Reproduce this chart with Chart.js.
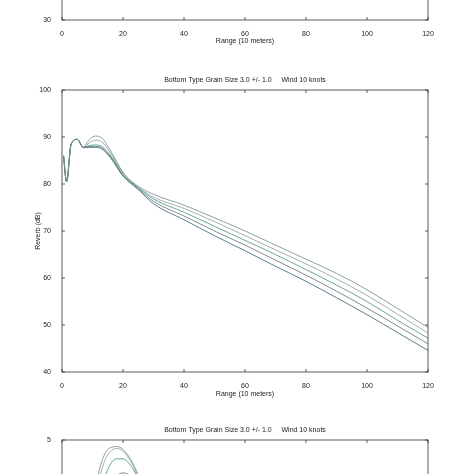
<!DOCTYPE html>
<html><head><meta charset="utf-8">
<script src="https://cdn.jsdelivr.net/npm/chart.js@4"></script>
<style>
body{margin:0;width:474px;height:474px;overflow:hidden;background:#fff;position:relative}
.c{position:absolute;left:0;width:474px}
</style></head><body>
<div class="c" style="top:-300px;height:345px"><canvas id="topChart"></canvas></div>
<div class="c" style="top:68px;height:330px"><canvas id="midChart"></canvas></div>
<div class="c" style="top:418px;height:330px"><canvas id="botChart"></canvas></div>
<script>
// range samples (10 m units)
const ranges = [0.5,1.5,3,5,7,9,11,13,16,20,25,30,40,50,60,70,80,90,100,110,120];
const reverb1 = [86,80.5,88.5,89.5,87.8,89.5,90.2,89.8,87,82.5,79.5,77.8,75.5,72.8,70,67,64,61,57.5,53.5,49.5];
const reverb2 = [86,80.5,88.5,89.5,87.8,88.8,89.3,89,86.5,82.3,79.3,77.2,74.8,72,69,66,63,59.8,56.3,52.3,48.3];
const reverb3 = [86,80.5,88.5,89.5,87.8,88.2,88.3,88,86,82,79.2,76.8,74,71,68,65,61.8,58.5,55,51,47.2];
const reverb4 = [86,80.5,88.5,89.5,87.8,88,88,87.7,85.7,81.8,79,76.3,73.2,70,67,63.8,60.6,57.2,53.6,49.8,46];
const reverb5 = [86,80.5,88.5,89.5,87.7,87.8,87.8,87.5,85.5,81.7,78.8,75.8,72.4,69,65.8,62.5,59.3,55.8,52.2,48.4,44.6];
// lower panel (only its top edge is visible)
const lowRanges = [8,10,12,14,16,18,20,22,24,26,28,30];
const low1 = [-8,-2,1.5,3.5,4.2,4.3,4,3.2,2,0.5,-1.5,-4];
const low2 = [-9,-3,0.5,2.8,3.8,4.1,3.8,3,1.8,0.3,-1.7,-4];
const low3 = [-10,-5,-1.5,1,2.5,3,3,2.5,1.5,0,-2,-4.5];
const low4 = [-12,-8,-4,-1.5,0.3,1.2,1.5,1.3,0.6,-0.6,-2.3,-5];
const titleText = 'Bottom Type Grain Size 3.0 +/- 1.0     Wind 10 knots';
const colors = ['#6e8c88','#8a9a98','#3f8f80','#5c6e72','#2f5f6a'];

const font = {family:'Liberation Sans', size:7};

const boxPlugin = {
  id:'box',
  afterDraw(chart){
    const {ctx, chartArea:a, scales} = chart;
    ctx.save();
    ctx.strokeStyle='#333'; ctx.lineWidth=0.8;
    ctx.strokeRect(a.left, a.top, a.right-a.left, a.bottom-a.top);
    ctx.beginPath();
    scales.x.ticks.forEach(t=>{
      const p = scales.x.getPixelForValue(t.value);
      ctx.moveTo(p,a.bottom); ctx.lineTo(p,a.bottom-3);
      ctx.moveTo(p,a.top); ctx.lineTo(p,a.top+3);
    });
    scales.y.ticks.forEach(t=>{
      const p = scales.y.getPixelForValue(t.value);
      ctx.moveTo(a.left,p); ctx.lineTo(a.left+3,p);
      ctx.moveTo(a.right,p); ctx.lineTo(a.right-3,p);
    });
    ctx.stroke();
    // title centred over the plot box
    if (chart.options.plugins.box && chart.options.plugins.box.title) {
      ctx.fillStyle='#222';
      ctx.font='7px "Liberation Sans"';
      ctx.textAlign='center'; ctx.textBaseline='bottom';
      ctx.fillText(titleText, (a.left+a.right)/2, a.top-6);
    }
    ctx.restore();
  }
};

function makeChart(id, xs, series, yMin, yMax, opts){
  return new Chart(document.getElementById(id), {
    type:'scatter',
    data:{datasets: series.map((s,i)=>({
      data: s.map((v,j)=>({x:xs[j], y:v})),
      showLine:true, pointRadius:0, borderWidth:0.8,
      borderColor: colors[i], cubicInterpolationMode:'monotone'
    }))},
    options:{
      responsive:true, maintainAspectRatio:false, animation:false,
      layout:{padding:{left:32,right:46,top:opts.title?22:0,bottom:0}},
      plugins:{
        legend:{display:false}, tooltip:{enabled:false},
        box:{title:opts.title}
      },
      scales:{
        x:{type:'linear', min:0, max:120,
          ticks:{stepSize:20, color:'#222', font, padding:2, maxRotation:0},
          grid:{display:false}, border:{display:false},
          title:{display:true, text:'Range (10 meters)', color:'#222', font, padding:0},
          afterFit:s=>{s.height=opts.xh;}},
        y:{min:yMin, max:yMax,
          ticks:{stepSize:opts.step, color:'#222', font, padding:3},
          grid:{display:false}, border:{display:false},
          title:{display:opts.ytitle, text:'Reverb (dB)', color:'#222', font, padding:2},
          afterFit:s=>{s.width=30;}}
      }
    },
    plugins:[boxPlugin]
  });
}

makeChart('topChart', ranges, [], 30, 100, {title:false, xh:25, step:10, ytitle:false});
makeChart('midChart', ranges, [reverb1,reverb2,reverb3,reverb4,reverb5], 40, 100, {title:true, xh:26, step:10, ytitle:true});
makeChart('botChart', lowRanges, [low1,low2,low3,low4], -25, 5, {title:true, xh:26, step:5, ytitle:false});
</script>
</body></html>
